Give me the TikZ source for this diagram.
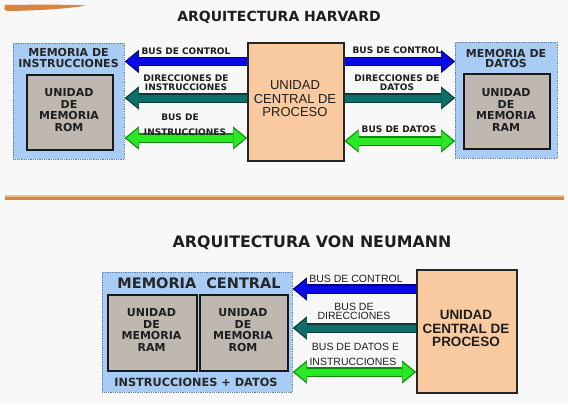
\documentclass[tikz,border=0pt]{standalone}
\usepackage{fontspec}
\setmainfont{DejaVu Sans}
\newfontfamily\arialf{Liberation Sans}
\usetikzlibrary{arrows.meta,backgrounds}
\definecolor{bgc}{HTML}{F9F8F8}
\definecolor{memfill}{HTML}{A8CCF4}
\definecolor{memline}{HTML}{5B7FAD}
\definecolor{unitfill}{HTML}{BFB8B1}
\definecolor{cpufill}{HTML}{F9C9A0}
\definecolor{busb}{HTML}{0A0AE8}
\definecolor{busbd}{HTML}{00007A}
\definecolor{bust}{HTML}{0F6E69}
\definecolor{bustd}{HTML}{063B38}
\definecolor{busg}{HTML}{2AE826}
\definecolor{busgd}{HTML}{0B8A0B}
\definecolor{orng}{HTML}{D8843F}
\definecolor{orngl}{HTML}{F3C08C}
\definecolor{txt}{HTML}{1E1E1E}
\tikzset{
  x=1pt, y=-1pt,
  membox/.style={draw=memline, densely dotted, line width=0.8pt, fill=memfill, anchor=north west, inner sep=0pt},
  unitbox/.style={draw=black!90, line width=2pt, fill=unitfill, anchor=north west, inner sep=0pt},
  cpubox/.style={draw=black!85, line width=1.6pt, fill=cpufill, anchor=north west, inner sep=0pt},
  titletext/.style={font=\bfseries\fontsize{14}{16}\selectfont, text=txt, inner sep=0pt},
  memtitle/.style={font=\bfseries\fontsize{11}{10.5}\selectfont, align=center, text=black!85, inner sep=0pt},
  unittext/.style={font=\bfseries\fontsize{11}{11.7}\selectfont, align=center, text=txt, inner sep=0pt},
  hlabel/.style={font=\bfseries\fontsize{9}{9.3}\selectfont, align=center, text=txt, inner sep=0pt},
  vlabel/.style={font=\arialf\fontsize{10.5}{9.5}\selectfont, align=center, text=txt, inner sep=0pt},
  cpuHtext/.style={font=\arialf\fontsize{13}{13.5}\selectfont, align=center, text=txt, inner sep=0pt},
  cpuVtext/.style={font=\arialf\bfseries\fontsize{13.5}{13.5}\selectfont, align=center, text=txt, inner sep=0pt},
  obus/.style={line width=9.5pt, draw=#1, -{Triangle[length=14pt,width=23pt,line width=0.1pt]}},
  ibus/.style={line width=7pt, draw=#1, shorten >=1.9pt, -{Triangle[length=11.8pt,width=19.4pt,line width=0.1pt]}},
  obusd/.style={line width=9.5pt, draw=#1, {Triangle[length=14pt,width=23pt,line width=0.1pt]}-{Triangle[length=14pt,width=23pt,line width=0.1pt]}},
  ibusd/.style={line width=7pt, draw=#1, shorten >=1.9pt, shorten <=1.9pt, {Triangle[length=11.8pt,width=19.4pt,line width=0.1pt]}-{Triangle[length=11.8pt,width=19.4pt,line width=0.1pt]}},
}
\begin{document}
\begin{tikzpicture}
\useasboundingbox (0,0) rectangle (568,405);
\begin{scope}[on background layer]
  \fill[bgc] (0,0) rectangle (568,405);
\end{scope}

% decorations
\fill[orng] (5,5) .. controls (40,4.5) and (70,4.5) .. (86,5.5) .. controls (70,8.5) and (40,10.5) .. (9,11) .. controls (4,10.5) .. (5,5) -- cycle;
\fill[orngl] (5,194.8) rectangle (564,196.8);
\fill[orng] (5,196.5) rectangle (564,200);

% titles
\node[titletext] (tH) at (279,17) {ARQUITECTURA HARVARD};
\node[titletext, font=\bfseries\fontsize{15.8}{17}\selectfont] (tV) at (312,243) {ARQUITECTURA VON NEUMANN};

% ---------- Harvard ----------
\node[membox, minimum width=111pt, minimum height=116pt] (memI) at (13,43) {};
\node[unitbox, minimum width=86pt, minimum height=75pt] (romI) at (26,74) {};
\node[cpubox, minimum width=96pt, minimum height=118pt] (cpuH) at (247,42) {};
\node[membox, minimum width=102pt, minimum height=116pt] (memD) at (455,42) {};
\node[unitbox, minimum width=86pt, minimum height=75pt] (ramD) at (463,73) {};

\node[memtitle] (tMI) at (68.5,58) {MEMORIA DE\\INSTRUCCIONES};
\node[unittext] (tROM) at (69,110) {UNIDAD\\DE\\MEMORIA\\ROM};
\node[cpuHtext] (tCH) at (295,99) {UNIDAD\\CENTRAL DE\\PROCESO};
\node[memtitle] (tMD) at (506,58.5) {MEMORIA DE\\DATOS};
\node[unittext] (tRAM) at (506,110) {UNIDAD\\DE\\MEMORIA\\RAM};

\node[hlabel] (l1) at (186,51) {BUS DE CONTROL};
\node[hlabel] (l2) at (186,82.5) {DIRECCIONES DE\\INSTRUCCIONES};
\node[hlabel] (l3) at (180,117) {BUS DE};
\node[hlabel] (l4) at (185,132) {INSTRUCCIONES};
\node[hlabel] (r1) at (397,50) {BUS DE CONTROL};
\node[hlabel] (r2) at (397,82.5) {DIRECCIONES DE\\DATOS};
\node[hlabel] (r3) at (399,129) {BUS DE DATOS};

\coordinate (yH1) at (0,61.5);
\coordinate (yH2) at (0,98);
\coordinate (yH3L) at (0,138);
\coordinate (yH3R) at (0,141);

% ---------- Von Neumann ----------
\node[membox, minimum width=190pt, minimum height=120pt] (memC) at (102,272) {};
\node[unitbox, minimum width=89pt, minimum height=76pt] (ramC) at (107,294) {};
\node[unitbox, minimum width=88pt, minimum height=76pt] (romC) at (199,294) {};
\node[cpubox, minimum width=100pt, minimum height=123pt] (cpuV) at (416,269) {};

\node[memtitle, font=\bfseries\fontsize{14.5}{15}\selectfont] (tMC) at (199,283) {MEMORIA\hspace{10pt}CENTRAL};
\node[unittext] (tRAMC) at (151.5,330) {UNIDAD\\DE\\MEMORIA\\RAM};
\node[unittext] (tROMC) at (243,330) {UNIDAD\\DE\\MEMORIA\\ROM};
\node[memtitle, font=\bfseries\fontsize{11.3}{12}\selectfont] (tID) at (196,382) {INSTRUCCIONES + DATOS};
\node[cpuVtext] (tCV) at (466,328.5) {UNIDAD\\CENTRAL DE\\PROCESO};

\node[vlabel] (v1) at (356,279) {BUS DE CONTROL};
\node[vlabel] (v2) at (354,311.5) {BUS DE\\DIRECCIONES};
\node[vlabel] (v3) at (355.5,347) {BUS DE DATOS E};
\node[vlabel] (v4) at (353,362) {INSTRUCCIONES};

\coordinate (yV1) at (0,289);
\coordinate (yV2) at (0,328);
\coordinate (yV3) at (0,372);

% ---------- buses (behind boxes) ----------
\begin{scope}[on background layer]
  % Harvard left
  \draw[obus=busbd] (cpuH.west |- yH1) -- (memI.east |- yH1);
  \draw[ibus=busb]  (cpuH.west |- yH1) -- (memI.east |- yH1);
  \draw[obus=bustd] (cpuH.west |- yH2) -- (memI.east |- yH2);
  \draw[ibus=bust]  (cpuH.west |- yH2) -- (memI.east |- yH2);
  \draw[obusd=busgd] (cpuH.west |- yH3L) -- (memI.east |- yH3L);
  \draw[ibusd=busg]  (cpuH.west |- yH3L) -- (memI.east |- yH3L);
  % Harvard right
  \draw[obus=busbd] (cpuH.east |- yH1) -- (memD.west |- yH1);
  \draw[ibus=busb]  (cpuH.east |- yH1) -- (memD.west |- yH1);
  \draw[obus=bustd] (cpuH.east |- yH2) -- (memD.west |- yH2);
  \draw[ibus=bust]  (cpuH.east |- yH2) -- (memD.west |- yH2);
  \draw[obusd=busgd] (cpuH.east |- yH3R) -- (memD.west |- yH3R);
  \draw[ibusd=busg]  (cpuH.east |- yH3R) -- (memD.west |- yH3R);
  % Von Neumann
  \draw[obus=busbd] (cpuV.west |- yV1) -- (memC.east |- yV1);
  \draw[ibus=busb]  (cpuV.west |- yV1) -- (memC.east |- yV1);
  \draw[obus=bustd] (cpuV.west |- yV2) -- (memC.east |- yV2);
  \draw[ibus=bust]  (cpuV.west |- yV2) -- (memC.east |- yV2);
  \draw[obusd=busgd] (cpuV.west |- yV3) -- (memC.east |- yV3);
  \draw[ibusd=busg]  (cpuV.west |- yV3) -- (memC.east |- yV3);
\end{scope}
\end{tikzpicture}
\end{document}
